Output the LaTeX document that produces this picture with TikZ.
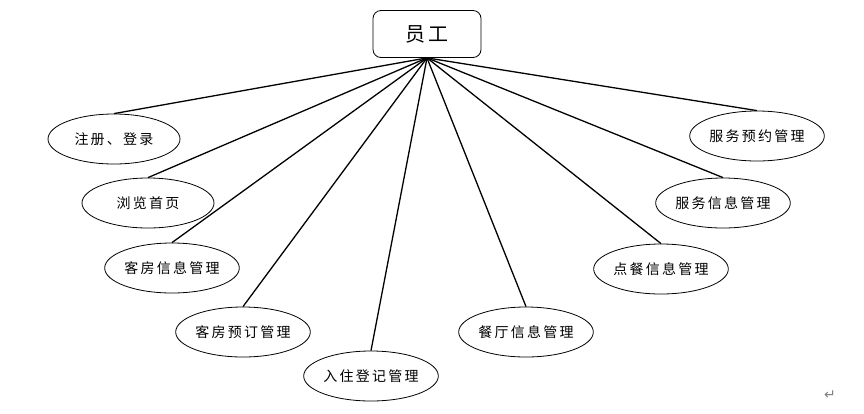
\documentclass[tikz,border=0pt]{standalone}
\usepackage{fontspec}
\newfontfamily\cjk[LetterSpace=16]{Noto Sans CJK SC}
\newfontfamily\symfont{DejaVu Sans}
\usetikzlibrary{shapes.geometric}

\begin{document}
\begin{tikzpicture}[x=1pt, y=-1pt,
  usecase/.style={ellipse, draw, line width=0.8pt, minimum width=132pt,
    minimum height=50pt, inner sep=0pt, font=\cjk\fontsize{14}{16}\selectfont},
  actor/.style={draw, line width=0.8pt, rounded corners=8pt, minimum width=108pt,
    minimum height=47pt, font=\cjk\fontsize{20}{24}\selectfont},
  link/.style={line width=1.3pt}]

  \useasboundingbox (0,0) rectangle (864,413);

  %actor:
  \node[actor] (staff) at (427,34) {员工};

  %use cases, left side
  \node[usecase] (login)   at (114,139) {注册、登录};
  \node[usecase] (home)    at (148,203) {浏览首页};
  \node[usecase] (roominfo) at (172,268) {客房信息管理};
  \node[usecase] (roombook) at (243,332) {客房预订管理};
  \node[usecase] (checkin) at (371,376) {入住登记管理};

  %use cases, right side
  \node[usecase] (dining)  at (526,332) {餐厅信息管理};
  \node[usecase] (order)   at (661,269) {点餐信息管理};
  \node[usecase] (service) at (723,203) {服务信息管理};
  \node[usecase] (servbook) at (757,136) {服务预约管理};

  %links:
  \foreach \uc in {login,home,roominfo,roombook,checkin,dining,order,service,servbook}
    \draw[link] (staff.south) -- (\uc.north);

  %paragraph mark
  \node[text=gray, font=\symfont\fontsize{14}{16}\selectfont] (mark) at (830,395) {↵};
\end{tikzpicture}
\end{document}
